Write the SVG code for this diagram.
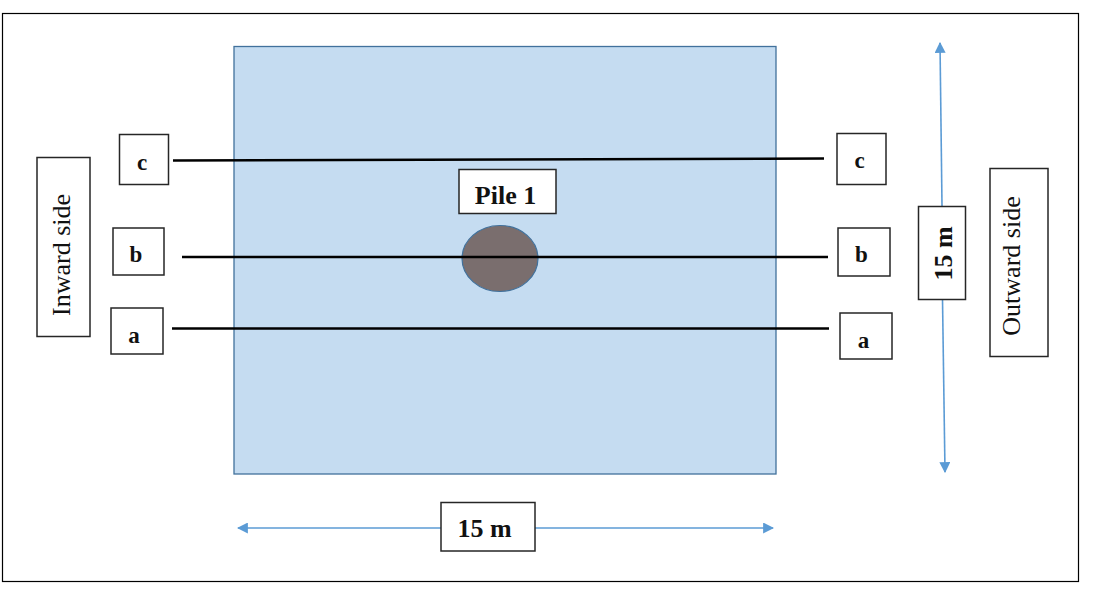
<svg xmlns="http://www.w3.org/2000/svg" width="1094" height="589" viewBox="0 0 1094 589">
<style>
.box{fill:#fff;stroke:#262626;stroke-width:1.5}
.lbl{font-family:"Liberation Serif",serif;font-weight:bold;font-size:23px;fill:#111;text-anchor:middle}
.big{font-size:26px}
.side{font-family:"Liberation Serif",serif;font-size:26px;fill:#111;text-anchor:middle}
.cut{stroke:#000;stroke-width:2.5}
.dim{stroke:#5b9bd5;stroke-width:1.6;fill:none}
</style>
<defs>
<marker id="ah" viewBox="0 0 10 10" refX="9" refY="5" markerWidth="11" markerHeight="11" markerUnits="userSpaceOnUse" orient="auto-start-reverse">
<path d="M0,0 L10,5 L0,10 z" fill="#5b9bd5"/>
</marker>
</defs>
<rect x="0" y="0" width="1094" height="589" fill="#fff"/>
<rect x="2.5" y="13.5" width="1076" height="568" fill="none" stroke="#000" stroke-width="1.2"/>
<g id="area">
<rect x="234" y="46.5" width="542" height="427.5" fill="#c5dcf1" stroke="#41719c" stroke-width="1.3"/>
</g>
<g id="pile">
<ellipse cx="500" cy="258.5" rx="38" ry="33" fill="#7a6e6e" stroke="#41719c" stroke-width="1.2"/>
</g>
<g id="connectors">
<line class="cut" x1="173" y1="160.5" x2="824" y2="158.5"/>
<line class="cut" x1="182" y1="257" x2="828" y2="257"/>
<line class="cut" x1="172" y1="328.5" x2="829" y2="328.5"/>
<line class="dim" x1="238" y1="528" x2="441" y2="528" marker-start="url(#ah)"/>
<line class="dim" x1="535" y1="528" x2="773" y2="528" marker-end="url(#ah)"/>
<line class="dim" x1="940" y1="43" x2="942" y2="206" marker-start="url(#ah)"/>
<line class="dim" x1="942.5" y1="299" x2="945" y2="472" marker-end="url(#ah)"/>
</g>
<g id="pile-label">
<rect class="box" x="459" y="169.5" width="97" height="44"/>
<text class="lbl big" x="505.5" y="204">Pile 1</text>
</g>
<g id="left-c"><rect class="box" x="119.5" y="134.5" width="49" height="50"/><text class="lbl" x="142" y="170">c</text></g>
<g id="left-b"><rect class="box" x="113" y="228" width="51" height="47"/><text class="lbl" x="136" y="262">b</text></g>
<g id="left-a"><rect class="box" x="111" y="308" width="52" height="46"/><text class="lbl" x="134" y="343">a</text></g>
<g id="right-c"><rect class="box" x="837" y="133.5" width="49" height="51"/><text class="lbl" x="859.5" y="168">c</text></g>
<g id="right-b"><rect class="box" x="838" y="228" width="52" height="48"/><text class="lbl" x="861.5" y="262">b</text></g>
<g id="right-a"><rect class="box" x="840" y="313" width="52" height="46"/><text class="lbl" x="863.5" y="348">a</text></g>
<g id="inward"><rect class="box" x="37" y="157.5" width="53" height="179"/><text class="side" transform="translate(70,255) rotate(-90)">Inward side</text></g>
<g id="outward"><rect class="box" x="990" y="168.5" width="58" height="188"/><text class="side" transform="translate(1020,266) rotate(-90)">Outward side</text></g>
<g id="dim-v"><rect class="box" x="918.5" y="206.5" width="47" height="93"/><text class="lbl big" transform="translate(952,253.5) rotate(-90)">15 m</text></g>
<g id="dim-h"><rect class="box" x="441" y="502.5" width="94" height="48.5"/><text class="lbl big" x="484.5" y="537">15 m</text></g>
</svg>
